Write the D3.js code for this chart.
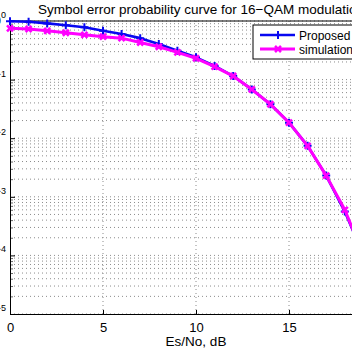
<!DOCTYPE html>
<html>
<head>
<meta charset="utf-8">
<script src="https://cdn.jsdelivr.net/npm/d3@7"></script>
<style>
  body { margin: 0; background: #fff; }
  svg { display: block; font-family: "Liberation Sans", Arial, sans-serif; }
</style>
</head>
<body>
<svg id="chart" width="352" height="352"></svg>
<script>
// values
const esNo = [0, 1, 2, 3, 4, 5, 6, 7, 8, 9, 10, 11, 12, 13, 14, 15, 16, 17, 18, 19];
const proposed = [0.99, 0.97, 0.91, 0.845, 0.78, 0.68, 0.60, 0.51, 0.405, 0.311, 0.24, 0.171, 0.115, 0.068, 0.038, 0.0184, 0.0074, 0.0023, 0.00056, 0.0001];
const simulation = [0.75, 0.73, 0.68, 0.63, 0.58, 0.54, 0.51, 0.43, 0.364, 0.292, 0.231, 0.166, 0.115, 0.068, 0.038, 0.0184, 0.0074, 0.0023, 0.0006, 0.0001];
const xTicks = [0, 5, 10, 15, 20];
const yDecades = [-5, -4, -3, -2, -1, 0];
const seriesNames = ["Proposed", "simulation"];

const svg = d3.select("#chart");
const margin = {top: 21, left: 10, bottom: 314, right: 382};

const x = d3.scaleLinear().domain([0, 20]).range([margin.left, margin.right]);
const y = d3.scaleLog().domain([1e-5, 1]).range([margin.bottom, margin.top]);

// grid lines (dotted, like matlab)
let minor = [];
yDecades.forEach(e => {
    for (let k = 1; k <= 9; k++) {
        let v = k * Math.pow(10, e);
        if (v <= 1) minor.push(v);
    }
});
svg.append("g").selectAll("line")
    .data(minor)
    .join("line")
    .attr("x1", margin.left).attr("x2", margin.right)
    .attr("y1", d => y(d)).attr("y2", d => y(d))
    .attr("stroke", "#8c8c8c")
    .attr("stroke-width", 1)
    .attr("stroke-dasharray", "1,3");
svg.append("g").selectAll("line")
    .data(xTicks.slice(1))
    .join("line")
    .attr("x1", d => x(d)).attr("x2", d => x(d))
    .attr("y1", margin.top).attr("y2", margin.bottom)
    .attr("stroke", "#8c8c8c")
    .attr("stroke-width", 1)
    .attr("stroke-dasharray", "1,3");

// axes
let xAxis = d3.axisBottom(x).tickValues(xTicks).tickSize(-4).tickPadding(9).tickFormat(d3.format("d"));
let gx = svg.append("g").attr("transform", `translate(0,${margin.bottom})`).call(xAxis);
gx.selectAll("text").attr("font-size", 13).attr("fill", "#000");
gx.select(".domain").attr("stroke", "#000");

let yAxis = d3.axisLeft(y).tickValues(minor).tickSize(-3).tickFormat("");
let gy = svg.append("g").attr("transform", `translate(${margin.left},0)`).call(yAxis);
gy.selectAll(".tick line").attr("stroke-width", d => Number.isInteger(Math.log10(d)) ? 1 : 0.6)
    .attr("x2", d => Number.isInteger(Math.log10(d)) ? 5 : 3);

// box top line
svg.append("line")
    .attr("x1", margin.left).attr("x2", margin.right)
    .attr("y1", margin.top).attr("y2", margin.top)
    .attr("stroke", "#000");

// decade labels 10^e (mostly cut off at left)
let lab = svg.append("g").selectAll("text")
    .data(yDecades)
    .join("text")
    .attr("x", 6)
    .attr("y", d => y(Math.pow(10, d)) + 4)
    .attr("text-anchor", "end")
    .attr("font-size", 13);
lab.append("tspan").text("10");
lab.append("tspan").attr("dy", -7).attr("font-size", 9).text(d => d === 0 ? "0" : "\u2212" + (-d));

// curves
const line = d3.line().x(d => x(d[0])).y(d => y(d[1]));
const colors = ["#0808f0", "#ff00ff"];
const widths = [2.6, 3];
[proposed, simulation].forEach((vals, i) => {
    let pts = esNo.map((e, j) => [e, vals[j]]);
    svg.append("path")
        .datum(pts)
        .attr("d", line)
        .attr("fill", "none")
        .attr("stroke", colors[i])
        .attr("stroke-width", widths[i])
        .attr("stroke-linejoin", "round");
    svg.append("g").selectAll("path")
        .data(pts)
        .join("path")
        .attr("transform", d => `translate(${x(d[0])},${y(d[1])})`)
        .attr("d", i === 0 ? "M-4,0H4M0,-4V4" : "M-3,-3L3,3M-3,3L3,-3")
        .attr("stroke", colors[i])
        .attr("stroke-width", i === 0 ? 2 : 2.6)
        .attr("fill", "none");
});

// legend
let lg = svg.append("g");
lg.append("rect")
    .attr("x", 253).attr("y", 25).attr("width", 110).attr("height", 34)
    .attr("fill", "#fff").attr("stroke", "#000").attr("stroke-width", 1);
seriesNames.forEach((name, i) => {
    let cy = 35 + i * 14;
    lg.append("line").attr("x1", 260).attr("x2", 295).attr("y1", cy).attr("y2", cy)
        .attr("stroke", colors[i]).attr("stroke-width", widths[i]);
    lg.append("path")
        .attr("transform", `translate(278,${cy})`)
        .attr("d", i === 0 ? "M-4,0H4M0,-4V4" : "M-3,-3L3,3M-3,3L3,-3")
        .attr("stroke", colors[i]).attr("stroke-width", i === 0 ? 2 : 2.6);
    lg.append("text").attr("x", 299).attr("y", cy + 4.5)
        .attr("font-size", 12).text(name);
});

// title and x label
svg.append("text")
    .attr("x", 38).attr("y", 14)
    .attr("font-size", 13.5)
    .text("Symbol error probability curve for 16\u2212QAM modulation");
svg.append("text")
    .attr("x", (margin.left + margin.right) / 2).attr("y", 346)
    .attr("text-anchor", "middle").attr("font-size", 13.5)
    .text("Es/No, dB");
</script>
</body>
</html>
